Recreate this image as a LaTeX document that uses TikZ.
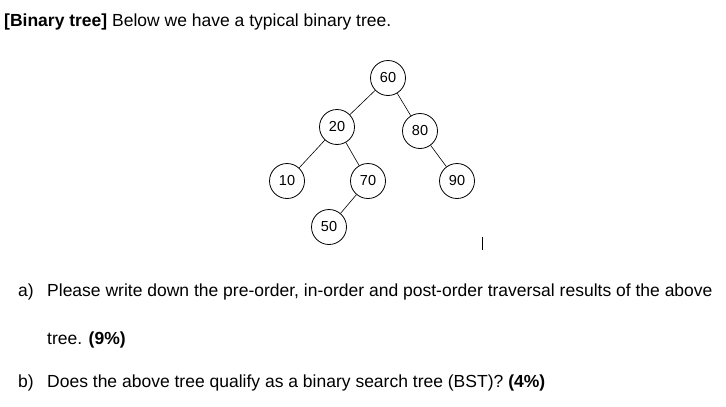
\documentclass[tikz,border=0pt]{standalone}
\usepackage{fontspec}
\setmainfont{Liberation Sans}
\begin{document}
\begin{tikzpicture}[x=1pt,y=-1pt,
  tn/.style={draw,thick,circle,minimum size=35pt,inner sep=0pt,font=\fontsize{14.5}{16}\selectfont},
  tx/.style={anchor=west,inner sep=0pt,font=\fontsize{17.5}{20}\selectfont},
  ed/.style={line width=0.6pt}]
\useasboundingbox (0,0) rectangle (726,407);
\node[tx] (title) at (4,22) {\textbf{[Binary tree]} Below we have a typical binary tree.};
\node[tn] (n60) at (388,78) {60};
\node[tn] (n20) at (337,127) {20};
\node[tn] (n80) at (420,131) {80};
\node[tn] (n10) at (287,181) {10};
\node[tn] (n70) at (368,181) {70};
\node[tn] (n90) at (457,181) {90};
\node[tn] (n50) at (329,227) {50};
\draw[ed] (n60)--(n20); \draw[ed] (n60)--(n80);
\draw[ed] (n20)--(n10); \draw[ed] (n20)--(n70);
\draw[ed] (n80)--(n90); \draw[ed] (n70)--(n50);
\coordinate (c1) at (482,237); \coordinate (c2) at (482,250);
\draw[line width=0.8pt] (c1)--(c2);
\node[tx] (la) at (18,292) {a)};
\node[tx] (ta) at (47,292) {Please write down the pre-order, in-order and post-order traversal results of the above};
\node[tx] (ta2) at (47,340) {tree. \textbf{(9\%)}};
\node[tx] (lb) at (18,383) {b)};
\node[tx] (tb) at (47,383) {Does the above tree qualify as a binary search tree (BST)? \textbf{(4\%)}};
\end{tikzpicture}
\end{document}
